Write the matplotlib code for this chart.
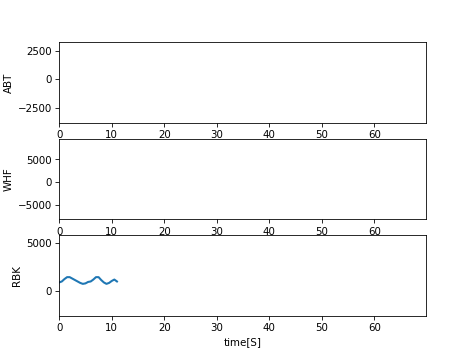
import matplotlib
matplotlib.use("Agg")
import matplotlib.pyplot as plt

# channel names and recorded RBK samples (others still empty)
channels = ["ABT", "WHF", "RBK"]
rbk_time = [0, 0.5, 1, 1.5, 2, 2.5, 3, 3.5, 4, 4.5, 5, 5.5, 6, 6.5, 7,
            7.5, 8, 8.5, 9, 9.5, 10, 10.5, 11]
rbk_vals = [850, 950, 1200, 1400, 1400, 1250, 1100, 950, 800, 700, 750, 900,
            950, 1150, 1400, 1400, 1100, 850, 700, 800, 1000, 1150, 950]
ylims = [(-3820, 3230), (-8160, 9470), (-2640, 5740)]

fig, axes = plt.subplots(3, 1, figsize=(6.4, 4.8), dpi=74)
for ax, name, lim in zip(axes, channels, ylims):
    ax.set_xlim(0, 69.9)
    ax.set_ylim(*lim)
    ax.set_ylabel(name)

axes[2].plot(rbk_time, rbk_vals, color="#1f77b4", linewidth=2)
axes[2].set_xlabel("time[S]")

fig.savefig("out.png", dpi=74)
